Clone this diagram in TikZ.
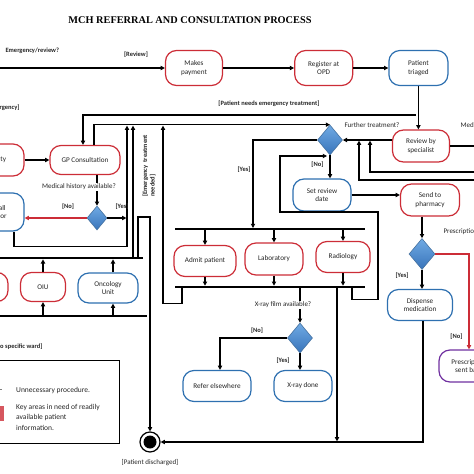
\documentclass[tikz,border=0pt]{standalone}
\usepackage{fontspec}
\setmainfont{Carlito}
\newfontfamily\titlefont{Liberation Serif}
\usepackage{xcolor}
\usepackage{tikz}
\usetikzlibrary{
	arrows.meta,
	calc,
	positioning,
	shapes,
	}
\definecolor{mchred}{RGB}{204,45,55}
\definecolor{mchblue}{RGB}{46,112,176}
\definecolor{mchpurple}{RGB}{112,48,160}
\definecolor{diatop}{RGB}{112,170,228}
\definecolor{diabot}{RGB}{56,116,186}
\definecolor{diaedge}{RGB}{70,114,160}

\begin{document}
\begin{tikzpicture}[x=1pt, y=-1pt,
		every node/.style={font=\fontsize{7.2}{8.6}\selectfont, text=black!85},
		procbox/.style={draw, line width=1.2pt, rounded corners=11pt, align=center, fill=white, minimum height=32pt, inner sep=2pt},
		redbox/.style={procbox, draw=mchred},
		bluebox/.style={procbox, draw=mchblue},
		purplebox/.style={procbox, draw=mchpurple},
		choice/.style={diamond, draw=diaedge, line width=0.6pt, top color=diatop, bottom color=diabot, inner sep=0pt, minimum width=25pt, minimum height=30pt},
		joinbar/.style={fill=black, inner sep=0pt, minimum height=2.2pt},
		flow/.style={line width=1.1pt, -{Triangle[length=4.2pt, width=4.2pt]}},
		link/.style={line width=1.1pt},
		guard/.style={font=\bfseries\fontsize{6.5}{7.6}\selectfont},
		note/.style={font=\fontsize{7}{8.4}\selectfont},
	]
	\useasboundingbox (0,0) rectangle (474,474);
	\clip (0,0) rectangle (474,474);

	\node[font=\titlefont\bfseries\fontsize{10.3}{12}\selectfont, text=black] (title) at (190,20) {MCH REFERRAL AND CONSULTATION PROCESS};

	\node[redbox, minimum width=57pt, minimum height=35pt] (pay) at (194,68) {Makes\\payment};
	\node[redbox, minimum width=58pt, minimum height=35pt, right=71pt of pay] (opd) {Register at\\OPD};
	\node[bluebox, minimum width=59pt, minimum height=35pt, right=35pt of opd] (triage) {Patient\\triaged};
	\node[redbox, minimum width=57pt] (rev) at (421,146) {Review by\\specialist};
	\node[choice] (further) at (330,140) {};
	\node[bluebox, minimum width=58pt] (revdate) at (322,195) {Set review\\date};
	\node[redbox, minimum width=59pt] (pharm) at (430,200) {Send to\\pharmacy};
	\node[choice, minimum width=26pt, minimum height=31pt] (presc) at (422,254) {};
	\node[bluebox, minimum width=65pt, minimum height=31pt] (disp) at (420,305) {Dispense\\medication};
	\node[purplebox, minimum width=60pt] (sentback) at (469,366) {Prescription\\sent back};

	\node[redbox, minimum width=76pt] (facility) at (-14,160) {Health facility};
	\node[redbox, minimum width=70pt, minimum height=29pt] (gp) at (85,160) {GP Consultation};
	\node[choice, minimum width=20pt, minimum height=24pt] (history) at (97,218) {};
	\node[bluebox, minimum width=54pt, minimum height=38pt] (recall) at (-3,212) {Recall\\doctor};

	\node[joinbar, minimum width=160pt] (wardbar) at (63,258) {};
	\node[joinbar, minimum width=164pt] (unitbar) at (65,316) {};
	\node[redbox, minimum width=56pt, minimum height=29pt] (ward) at (-20,287) {};
	\node[redbox, minimum width=45pt, minimum height=29pt] (oiu) at (43,287) {OIU};
	\node[bluebox, minimum width=60pt, minimum height=30pt] (onc) at (108,288) {Oncology\\Unit};

	\node[joinbar, minimum width=190pt] (fork) at (270,229) {};
	\node[joinbar, minimum width=190pt] (join) at (270,287) {};
	\node[redbox, minimum width=62pt, minimum height=31pt] (admit) at (205,261) {Admit patient};
	\node[redbox, minimum width=58pt] (lab) at (274,259) {Laboratory};
	\node[redbox, minimum width=54pt, minimum height=31pt] (radio) at (343,257) {Radiology};

	\node[choice] (xray) at (300,338) {};
	\node[bluebox, minimum width=68pt, minimum height=31pt] (refer) at (217,386) {Refer elsewhere};
	\node[bluebox, minimum width=58pt, minimum height=31pt] (xdone) at (303,386) {X-ray done};

	\node[circle, draw, line width=1.2pt, minimum size=20pt, inner sep=0pt] (discharge) at (150,442) {};
	\fill (discharge) circle (6.5pt);

	\coordinate (src) at (-5,68);
	\coordinate (emg) at (416,115);
	\coordinate (med1) at (480,172);
	\coordinate (med2) at (480,180);
	\coordinate (tip1) at (370,140.6);
	\coordinate (tip2) at (359,140.6);
	\coordinate (yesfork) at (253,228);
	\coordinate (yestip) at (126.4,218);
	\coordinate (loopA) at (127,125.6);
	\coordinate (loopB) at (133,125.6);
	\coordinate (loopC) at (163,125.6);
	\coordinate (emgturn) at (138,217);
	\coordinate (drop) at (337,441.4);
	\coordinate (backtip) at (327,156);

	\draw[flow] (src) -- (pay);
	\draw[flow] (pay) -- (opd);
	\draw[flow] (opd) -- (triage);
	\draw[flow] (triage) -- (triage |- rev.north);
	\draw[flow] (emg) -| ([xshift=-2pt]gp.north);
	\draw[flow] ([xshift=9pt]gp.north) |- (further.north);
	\draw[flow] (further.east -| rev.west) -- (further.east);
	\draw[link] (rev.east) -- (rev.east -| med1);
	\draw[flow] (med1) -| (tip1);
	\draw[flow] (med2) -| (tip2);
	\draw[flow] (further.west) -| (yesfork);
	\draw[flow] (further.south) -- (further.south |- revdate.north);
	\draw[flow] (revdate.east) -- (revdate.east -| pharm.west);
	\draw[flow] (pharm.south -| presc) -- (presc.north);
	\draw[flow] (presc.south) -- (presc.south |- disp.north);
	\draw[flow, draw=mchred] (presc.east) -| (sentback.north);
	\draw[flow] ([xshift=3pt]disp.south) |- (discharge.east);

	\draw[flow] (facility) -- (gp);
	\draw[flow] ([xshift=12pt]gp.south) -- (history.north);
	\draw[flow, draw=mchred] (history.west) -- (history.west -| recall.east);
	\draw[flow] (history.east) -- (yestip);
	\draw[flow] ([xshift=17pt]recall.south) -- ++(0,15) -| (loopA);
	\draw[flow] (wardbar.north -| loopB) -- (loopB);
	\draw[flow] (wardbar.north -| emgturn) -- (emgturn) -| (discharge.north);
	\draw[flow] (oiu.north) -- (oiu.north |- wardbar.south);
	\draw[flow] ([xshift=5pt]onc.north) -- ([xshift=5pt]onc.north |- wardbar.south);
	\draw[flow] (unitbar.north -| oiu) -- (oiu.south);
	\draw[flow] ([xshift=5pt]onc.south |- unitbar.north) -- ([xshift=5pt]onc.south);

	\draw[flow] (fork.south -| admit) -- (admit.north);
	\draw[flow] (fork.south -| lab) -- (lab.north);
	\draw[flow] (fork.south -| radio) -- (radio.north);
	\draw[flow] (admit.south) -- (admit.south |- join.north);
	\draw[flow] (lab.south) -- (lab.south |- join.north);
	\draw[flow] (radio.south) -- (radio.south |- join.north);
	\draw[flow] ([xshift=-88pt]join.south) -- ++(0,15) -| (loopC);
	\draw[flow] (join.south -| xray) -- (xray.north);
	\draw[flow] ([xshift=67pt]join.south) -- (drop);
	\draw[flow] ([xshift=82pt]join.south) -- ++(0,11) -| (378,212) -| (280,156) -- (backtip);
	\draw[flow] (xray.west) -| ([xshift=3pt]refer.north);
	\draw[flow] (xray.south) -- (xray.south |- xdone.north);

	\node[guard, anchor=west] at (2,51) {Emergency/review?};
	\node[guard] at (136,55) {[Review]};
	\node[guard, anchor=east] at (23,108) {[Emergency]};
	\node[guard] at (269,104) {[Patient needs emergency treatment]};
	\node[note] at (372,125) {Further treatment?};
	\node[note, anchor=west] at (457,125) {Medication?};
	\node[guard] at (244,170) {[Yes]};
	\node[guard, anchor=east] at (327,165) {[No]};
	\node[note, fill=white, inner sep=1pt] at (79,187) {Medical history available?};
	\node[guard] at (68,207) {[No]};
	\node[guard, anchor=west] at (112,207) {[Yes]};
	\node[guard, rotate=90, align=left] at (149,166) {[Emergency\ \ treatment\\needed]};
	\node[note, anchor=west] at (440,232) {Prescription available?};
	\node[guard] at (402,276) {[Yes]};
	\node[guard, anchor=east] at (466,337) {[No]};
	\node[note, fill=white, inner sep=1pt] at (283,305) {X-ray film available?};
	\node[guard] at (257,331) {[No]};
	\node[guard] at (283,361) {[Yes]};
	\node[guard, anchor=east] at (46,347) {[Referred to specific ward]};
	\node[note] at (150,463) {[Patient discharged]};

	\draw[line width=1pt] (-20,360) rectangle (119,443);
	\draw[gray, line width=0.8pt] (-15,389) -- (2,389);
	\fill[mchred!80] (-20,406) rectangle (4,421);
	\node[font=\fontsize{7.5}{10.5}\selectfont, anchor=west, inner sep=0pt] at (16,390) {Unnecessary procedure.};
	\node[font=\fontsize{7.5}{10.5}\selectfont, anchor=north west, align=left, inner sep=0pt] at (16,404) {Key areas in need of readily\\available patient\\information.};
\end{tikzpicture}
\end{document}
